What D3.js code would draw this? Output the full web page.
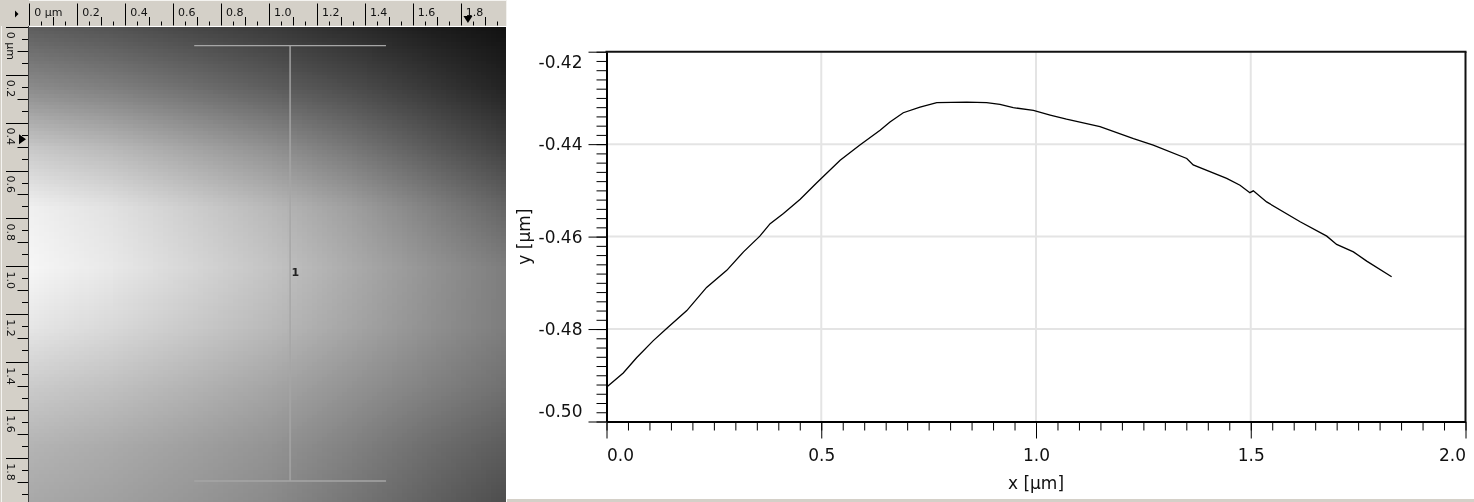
<!DOCTYPE html>
<html lang="en">
<head>
  <meta charset="UTF-8" />
  <title>Height image with extracted profile 1</title>
  <script src="https://d3js.org/d3.v7.min.js"></script>
  <style>
    body {
      margin: 0;
      background: #fff;
      font-family: "DejaVu Sans", Verdana, sans-serif;
    }
    #wrap {
      position: relative;
      width: 1474px;
      height: 502px;
      overflow: hidden;
    }
    #surface {
      position: absolute;
    }
    svg {
      position: absolute;
      left: 0;
      top: 0;
    }
  </style>
</head>
<body>
  <div id="wrap">
    <canvas id="surface"></canvas>
    <svg width="1474" height="502"></svg>
  </div>

  <script>
    // ---- height image (left panel) ----
    const imageSize = 1.99; // μm, square scan
    // gray level samples, rows top -> bottom, columns left -> right
    const grayLevels = [
      [ 95,  85,  72,  60,  45,  30,  18],
      [140, 128, 112,  95,  78,  57,  35],
      [200, 185, 165, 145, 120,  92,  65],
      [240, 226, 206, 185, 160, 130, 100],
      [246, 233, 215, 196, 172, 148, 125],
      [230, 217, 202, 186, 166, 145, 125],
      [203, 193, 180, 166, 148, 130, 112],
      [180, 171, 160, 148, 130, 110,  92],
      [168, 160, 150, 138, 118,  97,  76]
    ];
    const rulerValues = [0, 0.2, 0.4, 0.6, 0.8, 1.0, 1.2, 1.4, 1.6, 1.8];
    const rulerLabels = ["0 μm", "0.2", "0.4", "0.6", "0.8", "1.0", "1.2", "1.4", "1.6", "1.8"];
    const cursorX = 1.83, cursorY = 0.47;
    // selected profile line
    const profileX = 1.088, profileY0 = 0.079, profileY1 = 1.895, capHalf = 0.40;
    const profileName = "1";

    // ---- extracted profile (right panel) ----
    const profileXs = [0.000, 0.039, 0.070, 0.109, 0.140, 0.187, 0.233, 0.280, 0.319, 0.357,
                       0.381, 0.412, 0.451, 0.489, 0.544, 0.590, 0.637, 0.660, 0.691, 0.730,
                       0.769, 0.839, 0.885, 0.916, 0.947, 0.994, 1.033, 1.071, 1.149, 1.227,
                       1.273, 1.351, 1.366, 1.444, 1.475, 1.498, 1.506, 1.537, 1.615, 1.677,
                       1.700, 1.739, 1.770, 1.828];
    const profileYs = [-0.4926, -0.4895, -0.4862, -0.4825, -0.4799, -0.4760, -0.4710, -0.4673, -0.4633, -0.4599,
                       -0.4572, -0.4550, -0.4519, -0.4484, -0.4435, -0.4402, -0.4370, -0.4352, -0.4332, -0.4320,
                       -0.4310, -0.4309, -0.4310, -0.4314, -0.4321, -0.4327, -0.4337, -0.4346, -0.4362, -0.4388,
                       -0.4402, -0.4431, -0.4445, -0.4474, -0.4489, -0.4505, -0.4501, -0.4525, -0.4568, -0.4599,
                       -0.4617, -0.4633, -0.4653, -0.4687];
    const xTickValues = [0, 0.5, 1.0, 1.5, 2.0];
    const xTickLabels = ["0.0", "0.5", "1.0", "1.5", "2.0"];
    const yTickValues = [-0.50, -0.48, -0.46, -0.44, -0.42];
    const yTickLabels = ["-0.50", "-0.48", "-0.46", "-0.44", "-0.42"];
    const xTitle = "x [μm]", yTitle = "y [μm]";

    const svg = d3.select("svg");
    const rulerBg = "#d4d0c8";

    // ===== left panel =====
    const sx = d3.scaleLinear().domain([0, imageSize]).range([29.3, 506.3]);
    const sy = d3.scaleLinear().domain([0, imageSize]).range([26.7, 503.7]);
    const imgW = Math.round(sx(imageSize) - sx(0));
    const imgH = Math.round(sy(imageSize) - sy(0));

    // raster: tiny canvas of samples, smoothed up to the image area
    const rows = grayLevels.length, cols = grayLevels[0].length;
    const small = document.createElement("canvas");
    small.width = cols;
    small.height = rows;
    const sctx = small.getContext("2d");
    const pix = sctx.createImageData(cols, rows);
    grayLevels.forEach((row, r) => row.forEach((g, c) => {
      const k = (r * cols + c) * 4;
      pix.data[k] = pix.data[k + 1] = pix.data[k + 2] = g;
      pix.data[k + 3] = 255;
    }));
    sctx.putImageData(pix, 0, 0);

    const surface = document.getElementById("surface");
    surface.width = imgW;
    surface.height = imgH;
    surface.style.left = Math.round(sx(0)) + "px";
    surface.style.top = Math.round(sy(0)) + "px";
    const ctx = surface.getContext("2d");
    ctx.imageSmoothingEnabled = true;
    const cw = imgW / (cols - 1), ch = imgH / (rows - 1);
    ctx.drawImage(small, -cw / 2, -ch / 2, imgW + cw, imgH + ch);

    // rulers
    const rulers = svg.append("g");
    rulers.append("rect").attr("x", 0).attr("y", 0).attr("width", sx(imageSize)).attr("height", 26)
      .attr("fill", rulerBg);
    rulers.append("rect").attr("x", 0).attr("y", 0).attr("width", 29).attr("height", 502)
      .attr("fill", rulerBg);
    rulers.append("line").attr("x1", 1.5).attr("x2", 1.5).attr("y1", 26).attr("y2", 502)
      .attr("stroke", "#f4f3f0");
    rulers.append("line").attr("x1", 29).attr("x2", sx(imageSize)).attr("y1", 0.5).attr("y2", 0.5)
      .attr("stroke", "#f4f3f0");
    rulers.append("line").attr("x1", 28.5).attr("x2", 28.5).attr("y1", 26).attr("y2", 502)
      .attr("stroke", "#404040");

    // corner arrow
    rulers.append("path").attr("d", "M15,10.5 L15,17.5 L18.5,14 Z").attr("fill", "#000");

    const rulerTicks = d3.range(0, imageSize, 0.05);
    const tickLen = i => (i % 4 === 0 ? 22 : i % 2 === 0 ? 8.5 : 4);

    rulers.append("g").selectAll("line").data(rulerTicks).join("line")
      .attr("x1", d => Math.round(sx(d)) + 0.5).attr("x2", d => Math.round(sx(d)) + 0.5)
      .attr("y1", 25.5).attr("y2", (d, i) => 25.5 - tickLen(i))
      .attr("stroke", "#000");
    rulers.append("g").selectAll("line").data(rulerTicks).join("line")
      .attr("y1", d => Math.round(sy(d)) + 0.5).attr("y2", d => Math.round(sy(d)) + 0.5)
      .attr("x1", 28).attr("x2", (d, i) => 28 - (i % 4 === 0 ? 22 : tickLen(i) + 2))
      .attr("stroke", "#000");

    rulers.append("g").selectAll("text").data(rulerValues).join("text")
      .attr("x", d => sx(d) + 5).attr("y", 15.5)
      .attr("font-size", 11).attr("fill", "#111")
      .text((d, i) => rulerLabels[i]);
    rulers.append("g").selectAll("text").data(rulerValues).join("text")
      .attr("transform", d => `translate(7,${sy(d) + 5}) rotate(90)`)
      .attr("font-size", 11).attr("fill", "#111")
      .text((d, i) => rulerLabels[i]);

    // cursor markers
    rulers.append("path")
      .attr("d", `M${sx(cursorX) - 4.5},16 L${sx(cursorX) + 4.5},16 L${sx(cursorX)},23 Z`)
      .attr("fill", "#000");
    rulers.append("path")
      .attr("d", `M19,${sy(cursorY) - 5} L19,${sy(cursorY) + 5} L26,${sy(cursorY)} Z`)
      .attr("fill", "#000");

    // profile selection on the image
    const sel = svg.append("g").attr("stroke", "#a6a6a6").attr("stroke-width", 1.4);
    sel.append("line")
      .attr("x1", sx(profileX)).attr("x2", sx(profileX))
      .attr("y1", sy(profileY0)).attr("y2", sy(profileY1));
    [profileY0, profileY1].forEach(v => {
      sel.append("line")
        .attr("x1", sx(profileX - capHalf)).attr("x2", sx(profileX + capHalf))
        .attr("y1", sy(v)).attr("y2", sy(v));
    });
    svg.append("text")
      .attr("x", sx(profileX) + 1.5).attr("y", sy((profileY0 + profileY1) / 2) + 13)
      .attr("font-size", 11).attr("font-weight", "bold").attr("fill", "#222")
      .text(profileName);

    // window frame strip below graph
    svg.append("rect").attr("x", 507).attr("y", 499).attr("width", 967).attr("height", 3)
      .attr("fill", rulerBg);

    // ===== right panel: profile graph =====
    const x = d3.scaleLinear().domain([0, 2.0]).range([606.5, 1465.5]);
    const y = d3.scaleLinear().domain([-0.50, -0.42]).range([421.5, 51.7]);
    const [xLo, xHi] = x.domain();
    const [yLo, yHi] = y.domain();

    const chart = svg.append("g");

    // grid
    chart.append("g").selectAll("line").data(xTickValues.slice(1, -1)).join("line")
      .attr("x1", d => x(d)).attr("x2", d => x(d))
      .attr("y1", y(yLo)).attr("y2", y(yHi))
      .attr("stroke", "#e4e4e4").attr("stroke-width", 2);
    chart.append("g").selectAll("line").data(yTickValues.slice(1, -1)).join("line")
      .attr("y1", d => y(d)).attr("y2", d => y(d))
      .attr("x1", x(xLo)).attr("x2", x(xHi))
      .attr("stroke", "#e4e4e4").attr("stroke-width", 2);

    const yMinor = d3.range(0, 41).map(i => yLo + i * 0.002);
    const xMinor = d3.range(0, 41).map(i => xLo + i * 0.05);

    function styleAxis(g) {
      g.attr("font-family", "DejaVu Sans, Verdana, sans-serif").attr("font-size", 17);
      g.select(".domain").attr("stroke", "#000").attr("stroke-width", 2);
      g.selectAll(".tick line").attr("stroke", "#000");
      g.selectAll(".tick text").attr("fill", "#111");
    }

    chart.append("g").attr("transform", `translate(${x(xLo)},0)`)
      .call(d3.axisLeft(y).tickValues(yMinor).tickSize(10).tickSizeOuter(0).tickFormat(""))
      .call(styleAxis);
    const yAxis = chart.append("g").attr("transform", `translate(${x(xLo)},0)`)
      .call(d3.axisLeft(y).tickValues(yTickValues).tickSize(18).tickSizeOuter(0).tickPadding(6)
        .tickFormat((d, i) => yTickLabels[i]))
      .call(styleAxis);
    yAxis.selectAll(".tick text")
      .attr("transform", (d, i) => i === 0 ? "translate(0,-10)" : i === yTickValues.length - 1 ? "translate(0,10)" : null);

    chart.append("g").attr("transform", `translate(0,${y(yLo)})`)
      .call(d3.axisBottom(x).tickValues(xMinor).tickSize(9).tickSizeOuter(0).tickFormat(""))
      .call(styleAxis);
    const xAxis = chart.append("g").attr("transform", `translate(0,${y(yLo)})`)
      .call(d3.axisBottom(x).tickValues(xTickValues).tickSize(17).tickSizeOuter(0).tickPadding(10)
        .tickFormat((d, i) => xTickLabels[i]))
      .call(styleAxis);
    xAxis.selectAll(".tick text")
      .attr("text-anchor", (d, i) => i === 0 ? "start" : i === xTickValues.length - 1 ? "end" : "middle");

    // top and right frame
    chart.append("line").attr("x1", x(xLo) - 1).attr("x2", x(xHi) + 1).attr("y1", y(yHi)).attr("y2", y(yHi))
      .attr("stroke", "#111").attr("stroke-width", 2);
    chart.append("line").attr("x1", x(xHi)).attr("x2", x(xHi)).attr("y1", y(yHi)).attr("y2", y(yLo))
      .attr("stroke", "#111").attr("stroke-width", 2);

    // profile curve
    const line = d3.line()
      .x((d, i) => x(profileXs[i]))
      .y(d => y(d));
    chart.append("path")
      .datum(profileYs)
      .attr("d", line)
      .attr("fill", "none")
      .attr("stroke", "#000")
      .attr("stroke-width", 1.3);

    // axis titles
    chart.append("text")
      .attr("x", (x(xLo) + x(xHi)) / 2).attr("y", 489)
      .attr("text-anchor", "middle").attr("font-size", 17).attr("fill", "#111")
      .text(xTitle);
    chart.append("text")
      .attr("transform", `translate(530,${(y(yLo) + y(yHi)) / 2}) rotate(-90)`)
      .attr("text-anchor", "middle").attr("font-size", 17).attr("fill", "#111")
      .text(yTitle);
  </script>
</body>
</html>
